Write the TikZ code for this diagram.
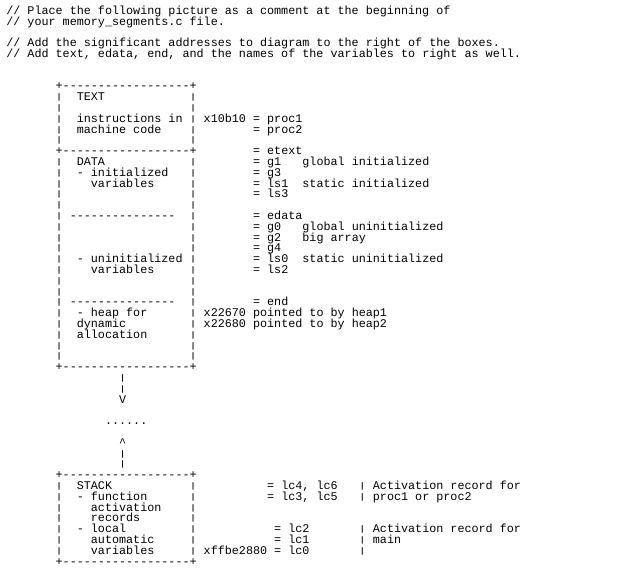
\documentclass[tikz,border=0pt]{standalone}
\usepackage{fontspec}
\setmonofont{Liberation Mono}
\frenchspacing
\newcounter{segc}
\newcommand\vb{\raisebox{1pt}{\scalebox{1}[0.68]{|}}}
\tikzset{
  seg/.style={anchor=base west, inner sep=0pt, outer sep=0pt,
    font=\ttfamily\fontsize{11.75pt}{10.8pt}\selectfont, text=black}
}
\newcommand\seg[3]{\stepcounter{segc}%
  \node[seg, name=s\arabic{segc}] at ({6.3pt+#2*7.05pt},{-14.3pt-#1*10.8pt}) {#3};}
\begin{document}
\begin{tikzpicture}
\fill[white] (0,0) rectangle (632pt,-568pt);
\useasboundingbox (0,0) rectangle (632pt,-568pt);
% header comments
\seg{0}{0}{// Place the following picture as a comment at the beginning of}
\seg{1}{0}{// your memory\_segments.c file.}
\seg{3}{0}{// Add the significant addresses to diagram to the right of the boxes.}
\seg{4}{0}{// Add text, edata, end, and the names of the variables to right as well.}
% upper box borders
\seg{7}{7}{+------------------+}
\seg{13}{7}{+------------------+}
\seg{33}{7}{+------------------+}
\foreach \i in {8,...,12} {\seg{\i}{7}{\vb}\seg{\i}{26}{\vb}}
\foreach \i in {14,...,32} {\seg{\i}{7}{\vb}\seg{\i}{26}{\vb}}
% TEXT
\seg{8}{10}{TEXT}
\seg{10}{10}{instructions in}
\seg{10}{28}{x10b10 = proc1}
\seg{11}{10}{machine code}
\seg{11}{35}{= proc2}
% DATA
\seg{13}{35}{= etext}
\seg{14}{10}{DATA}
\seg{14}{35}{= g1~~~global initialized}
\seg{15}{10}{- initialized}
\seg{15}{35}{= g3}
\seg{16}{12}{variables}
\seg{16}{35}{= ls1~~static initialized}
\seg{17}{35}{= ls3}
\seg{19}{9}{---------------}
\seg{19}{35}{= edata}
\seg{20}{35}{= g0~~~global uninitialized}
\seg{21}{35}{= g2~~~big array}
\seg{22}{35}{= g4}
\seg{23}{10}{- uninitialized}
\seg{23}{35}{= ls0~~static uninitialized}
\seg{24}{12}{variables}
\seg{24}{35}{= ls2}
\seg{27}{9}{---------------}
\seg{27}{35}{= end}
\seg{28}{10}{- heap for}
\seg{28}{28}{x22670 pointed to by heap1}
\seg{29}{10}{dynamic}
\seg{29}{28}{x22680 pointed to by heap2}
\seg{30}{10}{allocation}
% arrows
\seg{34}{16}{\vb}
\seg{35}{16}{\vb}
\seg{36}{16}{V}
\seg{38}{14}{......}
\seg{40}{16}{\textasciicircum}
\seg{41}{16}{\vb}
\seg{42}{16}{\vb}
% stack box
\seg{43}{7}{+------------------+}
\seg{51}{7}{+------------------+}
\foreach \i in {44,...,50} {\seg{\i}{7}{\vb}\seg{\i}{26}{\vb}}
\seg{44}{10}{STACK}
\seg{44}{37}{= lc4, lc6}
\seg{44}{50}{\vb{} Activation record for}
\seg{45}{10}{- function}
\seg{45}{37}{= lc3, lc5}
\seg{45}{50}{\vb{} proc1 or proc2}
\seg{46}{12}{activation}
\seg{47}{12}{records}
\seg{48}{10}{- local}
\seg{48}{38}{= lc2}
\seg{48}{50}{\vb{} Activation record for}
\seg{49}{12}{automatic}
\seg{49}{38}{= lc1}
\seg{49}{50}{\vb{} main}
\seg{50}{12}{variables}
\seg{50}{28}{xffbe2880 = lc0}
\seg{50}{50}{\vb}
\end{tikzpicture}
\end{document}
